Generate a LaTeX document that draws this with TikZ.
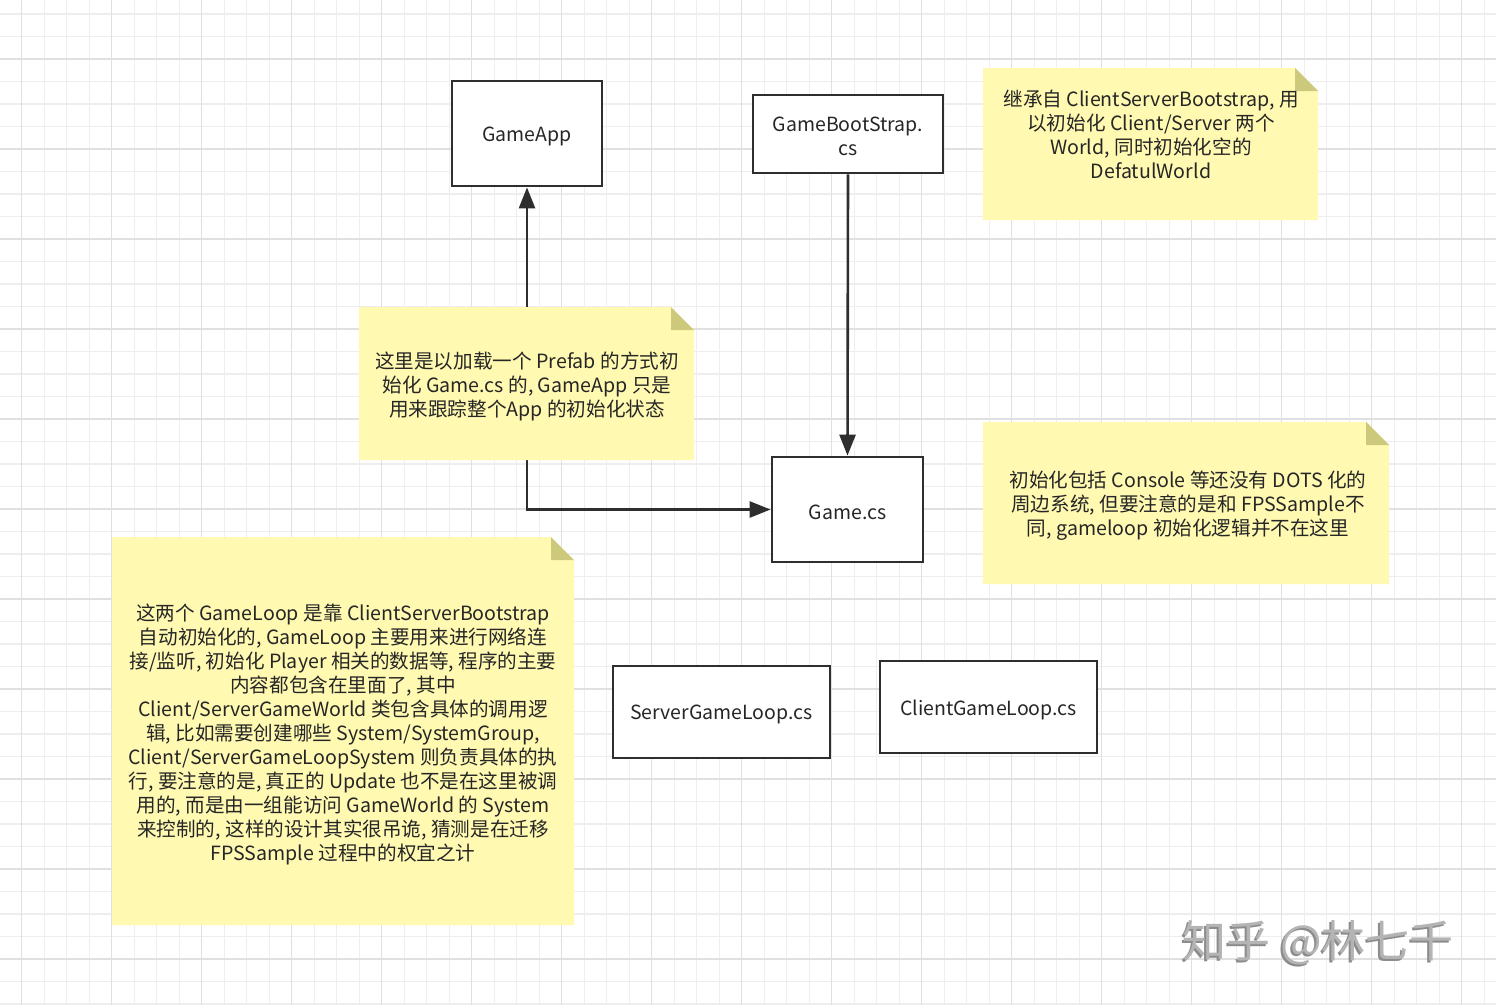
\documentclass[tikz,border=0pt]{standalone}
\usepackage{fontspec}
\setmainfont{Noto Sans CJK SC}
\usetikzlibrary{arrows.meta}
\definecolor{gridminor}{HTML}{EEEEEE}
\definecolor{gridmajor}{HTML}{E0E0E0}
\definecolor{notefill}{HTML}{FFF9B2}
\definecolor{notefold}{HTML}{CCC87C}
\definecolor{linec}{HTML}{2E2E2E}
\definecolor{txt}{HTML}{262626}
\definecolor{wm}{HTML}{B4B4B4}
\definecolor{wmshadow}{HTML}{8C8C8C}
\newcommand\mynote[4]{%
  \fill[notefill] (#1,#2) -- ({#3-23},#2) -- (#3,{#2+23}) -- (#3,#4) -- (#1,#4) -- cycle;
  \fill[notefold] ({#3-23},#2) -- ({#3-23},{#2+23}) -- (#3,{#2+23}) -- cycle;
}
\newcommand\lowr[1]{\raisebox{-2.5pt}[\height][\depth]{#1}}
\begin{document}
\begin{tikzpicture}[x=1pt,y=-1pt,
  box/.style={draw=linec, line width=2.8pt, fill=white, text=txt,
    font=\fontsize{19.5}{24}\selectfont, align=center, inner sep=0pt},
  notetext/.style={text=txt, font=\fontsize{19.6}{24}\selectfont, align=center, inner sep=0pt},
  conn/.style={draw=linec, line width=2.6pt, -{Triangle[length=21pt,width=16pt]}},
  conn2/.style={draw=linec, line width=2.6pt, {Triangle[length=21pt,width=16pt]}-{Triangle[length=21pt,width=16pt]}}
]
\useasboundingbox (0,0) rectangle (1496,1005);
\fill[white] (0,0) rectangle (1496,1005);
% grid
\foreach \i in {0,...,66} { \draw[gridminor, line width=1.4pt] ({21.7+22.5*\i},0) -- ({21.7+22.5*\i},1005); }
\foreach \i in {0,...,44} { \draw[gridminor, line width=1.4pt] (0,{14+22.5*\i}) -- (1496,{14+22.5*\i}); }
\foreach \i in {0,...,16} { \draw[gridmajor, line width=1.4pt] ({21.7+90*\i},0) -- ({21.7+90*\i},1005); }
\foreach \i in {0,...,10} { \draw[gridmajor, line width=1.4pt] (0,{59+90*\i}) -- (1496,{59+90*\i}); }

% boxes
\node[box, minimum width=150pt, minimum height=105pt] (gameapp) at (527,133.5) {\lowr{GameApp}};
\node[box, minimum width=190pt, minimum height=78pt] (boot) at (848,134) {\lowr{GameBootStrap.}\\\lowr{cs}};
\node[box, minimum width=151pt, minimum height=105pt] (game) at (847.5,509.5) {\lowr{Game.cs}};
\node[box, minimum width=217pt, minimum height=92pt] (server) at (721.5,712) {\lowr{ServerGameLoop.cs}};
\node[box, minimum width=217pt, minimum height=92pt] (client) at (988.5,707) {\lowr{ClientGameLoop.cs}};

% connectors
\draw[conn] (boot.south) -- (game.north);
\draw[conn2] (gameapp.south) |- (game.west);

% notes
\mynote{983}{68}{1318}{220}
\node[notetext] (n1) at (1151,134) {继承自 ClientServerBootstrap, 用\\以初始化 Client/Server 两个\\World, 同时初始化空的\\DefatulWorld};
\mynote{359}{307}{694}{460}
\node[notetext] (n2) at (527,386) {这里是以加载一个 Prefab 的方式初\\始化 Game.cs 的, GameApp 只是\\用来跟踪整个App 的初始化状态};
\mynote{983}{422}{1389}{584}
\node[notetext] (n3) at (1188,506) {初始化包括 Console 等还没有 DOTS 化的\\周边系统, 但要注意的是和 FPSSample不\\同, gameloop 初始化逻辑并不在这里};
\mynote{112}{537}{574}{925}
\node[notetext] (n4) at (343,734) {这两个 GameLoop 是靠 ClientServerBootstrap\\自动初始化的, GameLoop 主要用来进行网络连\\接/监听, 初始化 Player 相关的数据等, 程序的主要\\内容都包含在里面了, 其中\\Client/ServerGameWorld 类包含具体的调用逻\\辑, 比如需要创建哪些 System/SystemGroup,\\Client/ServerGameLoopSystem 则负责具体的执\\行, 要注意的是, 真正的 Update 也不是在这里被调\\用的, 而是由一组能访问 GameWorld 的 System\\来控制的, 这样的设计其实很吊诡, 猜测是在迁移\\FPSSample 过程中的权宜之计};

% watermark
\node[text=wmshadow, font=\fontsize{44}{50}\selectfont, inner sep=0pt] (wms) at (1316,945) {知乎 @林七千};
\node[text=wm, font=\fontsize{44}{50}\selectfont, inner sep=0pt] (wmk) at (1318,943) {知乎 @林七千};
\end{tikzpicture}
\end{document}
